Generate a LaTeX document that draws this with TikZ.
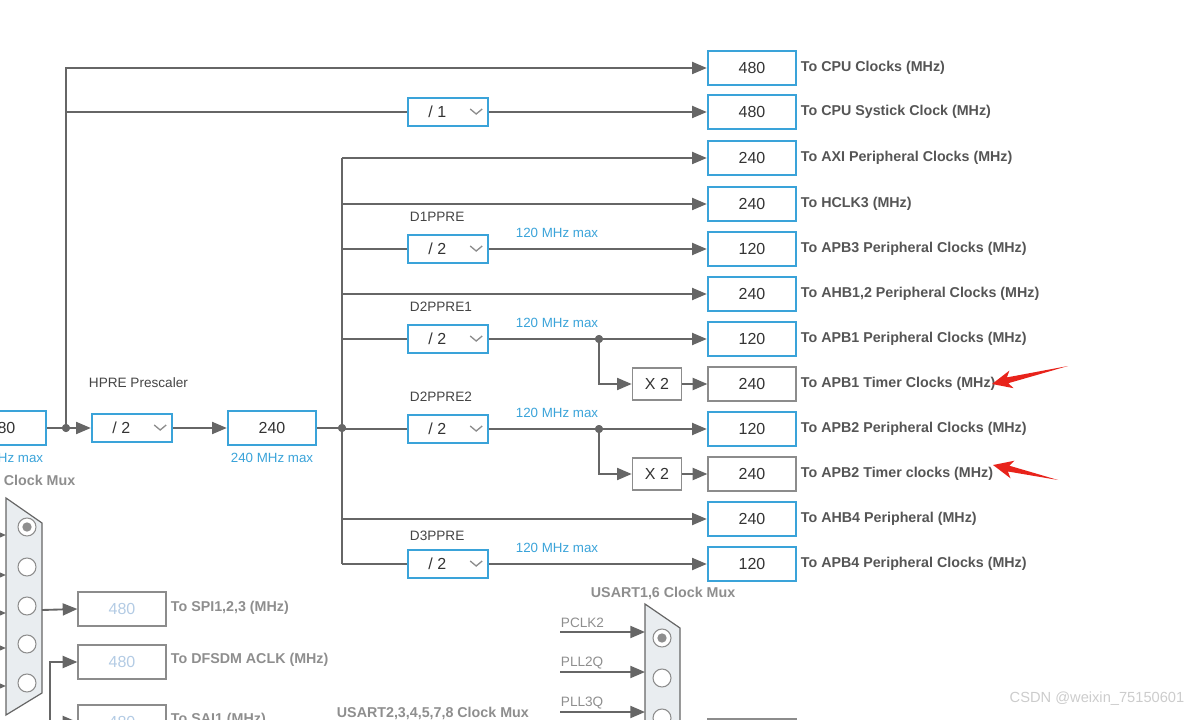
\documentclass[tikz,border=0pt]{standalone}
\usepackage{fontspec}
\setmainfont{Liberation Sans}
\usetikzlibrary{arrows.meta}

\definecolor{cubeBlue}{HTML}{3AA3D9}
\definecolor{lineGray}{HTML}{666666}
\definecolor{valGray}{HTML}{333333}
\definecolor{labelGray}{HTML}{555555}
\definecolor{textGray}{HTML}{444444}
\definecolor{boxGray}{HTML}{8C8C8C}
\definecolor{fadeGray}{HTML}{8E8E8E}
\definecolor{fadeBlue}{HTML}{B3CBE4}
\definecolor{muxFill}{HTML}{E9EDF0}
\definecolor{markRed}{HTML}{E8231B}

\tikzset{every picture/.style={line width=1.4pt},
        wire/.style={draw=lineGray, line width=1.4pt},
        arr/.style={wire, -{Triangle[length=11pt, width=9pt]}},
        jdot/.style={circle, fill=lineGray, inner sep=0pt, minimum size=6pt},
        outBox/.style={draw=cubeBlue, line width=1.8pt, minimum width=66pt, minimum height=25.5pt, inner sep=0pt, text=valGray, font=\fontsize{12}{14}\selectfont},
        timBox/.style={outBox, draw=boxGray, line width=0.9pt},
        fadeBox/.style={timBox, text=fadeBlue},
        divBox/.style={draw=cubeBlue, line width=1.8pt, minimum width=60pt, minimum height=21pt, inner sep=0pt, text=valGray, font=\fontsize{12}{14}\selectfont},
        mulBox/.style={draw=boxGray, line width=0.9pt, minimum width=37pt, minimum height=24pt, inner sep=0pt, text=valGray, font=\fontsize{12}{14}\selectfont},
        chev/.style={draw=boxGray, line width=1pt},
        outLabel/.style={anchor=west, inner sep=0pt, text=labelGray, font=\fontsize{10.7}{12}\selectfont\bfseries},
        fadeLabel/.style={outLabel, text=fadeGray},
        preLabel/.style={anchor=west, inner sep=0pt, text=textGray, font=\fontsize{10.2}{12}\selectfont},
        pinLabel/.style={preLabel, text=fadeGray},
        maxLabel/.style={inner sep=0pt, text=cubeBlue, font=\fontsize{10}{12}\selectfont},
        muxShape/.style={draw=lineGray, line width=0.9pt, fill=muxFill},
        radio/.style={circle, draw=fadeGray, line width=0.8pt, fill=white, minimum size=13.5pt, inner sep=0pt},
        radioOn/.style={circle, fill=fadeGray, minimum size=7pt, inner sep=0pt}}

\begin{document}
\begin{tikzpicture}[x=0.75pt, y=-0.75pt]

\useasboundingbox (0,0) rectangle (1189,720);
\clip (0,0) rectangle (1189,720);

% draw output boxes and their labels
\foreach \y/\v/\t/\s [count=\i] in {
    68/480/{To CPU Clocks (MHz)}/outBox,
    112/480/{To CPU Systick Clock (MHz)}/outBox,
    158/240/{To AXI Peripheral Clocks (MHz)}/outBox,
    204/240/{To HCLK3 (MHz)}/outBox,
    249/120/{To APB3 Peripheral Clocks (MHz)}/outBox,
    294/240/{To AHB1,2 Peripheral Clocks (MHz)}/outBox,
    339/120/{To APB1 Peripheral Clocks (MHz)}/outBox,
    384/240/{To APB1 Timer Clocks (MHz)}/timBox,
    429/120/{To APB2 Peripheral Clocks (MHz)}/outBox,
    474/240/{To APB2 Timer clocks (MHz)}/timBox,
    519/240/{To AHB4 Peripheral (MHz)}/outBox,
    564/120/{To APB4 Peripheral Clocks (MHz)}/outBox} {
    \node[\s] (out-\i) at (752,\y) {\v};
    \node[outLabel] (lbl-\i) at (800,\y) {\t};
}
\node[timBox] (out-13) at (752,736) {};

% draw system clock input and HPRE
\node[outBox] (sysIn) at (2,428) {480};
\node[maxLabel] (sysMax) at (2,458) {480 MHz max};
\node[jdot] (sysDot) at (66,428) {};
\node[divBox] (hpre) at (132,428) {\hspace*{-16pt}/ 2};
\node[preLabel] (hpreLbl) at (88,383) {HPRE Prescaler};
\node[outBox] (ahb) at (272,428) {240};
\node[maxLabel] (ahbMax) at (272,458) {240 MHz max};
\node[jdot] (ahbDot) at (342,428) {};

% draw prescalers
\node[divBox] (cpuDiv) at (448,112) {\hspace*{-16pt}/ 1};
\node[divBox] (d1) at (448,249) {\hspace*{-16pt}/ 2};
\node[divBox] (d2a) at (448,339) {\hspace*{-16pt}/ 2};
\node[divBox] (d2b) at (448,429) {\hspace*{-16pt}/ 2};
\node[divBox] (d3) at (448,564) {\hspace*{-16pt}/ 2};
\foreach \n in {cpuDiv,hpre,d1,d2a,d2b,d3} {
    \draw[chev] (\n.east) ++(-19,-3) -- ++(6,5) -- ++(6,-5);
}
\node[preLabel] (d1Lbl) at (409,217) {D1PPRE};
\node[preLabel] (d2aLbl) at (409,307) {D2PPRE1};
\node[preLabel] (d2bLbl) at (409,397) {D2PPRE2};
\node[preLabel] (d3Lbl) at (409,536) {D3PPRE};
\foreach \y [count=\i] in {233,323,413,548} {
    \node[maxLabel] (apbMax-\i) at (557,\y) {120 MHz max};
}

% draw timer multipliers
\node[jdot] (apb1Dot) at (599,339) {};
\node[jdot] (apb2Dot) at (599,429) {};
\node[mulBox] (tim1) at (657,384) {X 2};
\node[mulBox] (tim2) at (657,474) {X 2};

% draw necessary paths
\draw[arr] (sysIn) -- (hpre);
\draw[arr] (sysDot.center) |- (out-1.west);
\draw[wire] (sysDot.center) |- (cpuDiv.west);
\draw[arr] (cpuDiv) -- (out-2);
\draw[arr] (hpre) -- (ahb);
\draw[wire] (ahb) -- (ahbDot.center);
\draw[wire] (ahbDot |- out-3.west) -- (ahbDot |- d3.west);
\foreach \i in {3,4,6,11} {
    \draw[arr] (ahbDot |- out-\i.west) -- (out-\i.west);
}
\foreach \n/\i in {d1/5,d2a/7,d2b/9,d3/12} {
    \draw[wire] (ahbDot |- \n.west) -- (\n.west);
    \draw[arr] (\n) -- (out-\i);
}
\draw[arr] (apb1Dot.center) |- (tim1.west);
\draw[arr] (tim1) -- (out-8);
\draw[arr] (apb2Dot.center) |- (tim2.west);
\draw[arr] (tim2) -- (out-10);

% draw nodes again such that lines don't go over them
\node[jdot] at (66,428) {};
\node[jdot] at (342,428) {};
\node[jdot] at (599,339) {};
\node[jdot] at (599,429) {};

% draw SPI clock mux
\node[fadeLabel] (mux1Lbl) at (3,480) {Clock Mux};
\draw[muxShape] (6,498) -- (42,523) -- (42,693) -- (6,715) -- cycle;
\foreach \y/\p [count=\i] in {527/535,567/575,606/613,644/648,683/686} {
    \node[radio] (m1r-\i) at (27,\y) {};
    \coordinate (m1src-\i) at (-20,\p);
    \coordinate (m1in-\i) at (6,\p);
    \draw[arr] (m1src-\i) -- (m1in-\i);
}
\node[radioOn] at (m1r-1) {};
\coordinate (m1out) at (42,610);
\node[fadeBox] (spi) at (122,609) {480};
\node[fadeBox] (dfsdm) at (122,662) {480};
\node[fadeBox] (sai) at (122,722) {480};
\node[fadeLabel] (spiLbl) at (170,608) {To SPI1,2,3 (MHz)};
\node[fadeLabel] (dfsdmLbl) at (170,660) {To DFSDM ACLK (MHz)};
\node[fadeLabel] (saiLbl) at (170,720) {To SAI1 (MHz)};
\coordinate (saiSrc) at (50,760);
\draw[arr] (m1out) -- (spi.west);
\draw[arr] (saiSrc) |- (dfsdm.west);
\draw[arr] (saiSrc) |- (sai.west);

% draw USART clock muxes
\node[fadeLabel] (mux2Lbl) at (336,713) {USART2,3,4,5,7,8 Clock Mux};
\node[fadeLabel] (mux3Lbl) at (590,593) {USART1,6 Clock Mux};
\draw[muxShape] (645,604) -- (680,628) -- (680,760) -- (645,760) -- cycle;
\foreach \y/\t [count=\i] in {632/PCLK2,672/PLL2Q,712/PLL3Q} {
    \node[radio] (m3r-\i) at (662,\y+6) {};
    \node[pinLabel] (pin-\i) at (560,\y-9) {\t};
    \coordinate (m3src-\i) at (560,\y);
    \coordinate (m3in-\i) at (645,\y);
    \draw[arr] (m3src-\i) -- (m3in-\i);
}
\node[radioOn] at (m3r-1) {};

% draw red markers
\fill[markRed] (992,384) -- (1013.6,388.2) -- (1008.3,383.2) -- (1068,366)
    -- (1006.9,377.4) -- (1009.4,370.6) -- cycle;
\fill[markRed] (993,465) -- (1014.5,460.7) -- (1009.3,465.7) -- (1058,480)
    -- (1007.9,471.5) -- (1010.5,478.3) -- cycle;

% watermark
\node[text=black!20, font=\fontsize{11}{13}\selectfont] (mark) at (1097,699) {CSDN @weixin\_75150601};

\end{tikzpicture}
\end{document}
